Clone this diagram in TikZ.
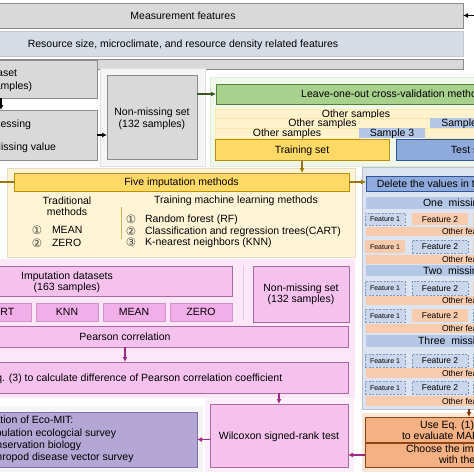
\documentclass[tikz,border=0pt]{standalone}
\usepackage{fontspec}
\setmainfont{Liberation Sans}
\newfontfamily\symf{DejaVu Sans}
\usetikzlibrary{arrows.meta}
\definecolor{gF}{HTML}{D9D9D9}\definecolor{gD}{HTML}{8C8C8C}
\definecolor{resF}{HTML}{D6DCE5}
\definecolor{grF}{HTML}{A9D18E}\definecolor{grD}{HTML}{548235}
\definecolor{lyel}{HTML}{FFF2CC}\definecolor{yelF}{HTML}{FFD966}\definecolor{yelD}{HTML}{BF9000}
\definecolor{blF}{HTML}{8FAADC}\definecolor{blD}{HTML}{2F5597}\definecolor{lbl}{HTML}{B4C7E7}
\definecolor{ftB}{HTML}{C9D6EC}\definecolor{ftBD}{HTML}{7E95BE}\definecolor{orF}{HTML}{F8CBAD}
\definecolor{pkP}{HTML}{FCE6F8}\definecolor{pkB}{HTML}{F5C2EE}\definecolor{pkD}{HTML}{A86AA0}\definecolor{pkM}{HTML}{F2AEE8}
\definecolor{puF}{HTML}{B4A7D6}\definecolor{puD}{HTML}{7F6FA8}
\definecolor{obF}{HTML}{F4B183}\definecolor{obD}{HTML}{8F4413}\definecolor{peach}{HTML}{FBE5D6}
\definecolor{bpan}{HTML}{DCE4F2}\definecolor{cream}{HTML}{FFF4D6}
\definecolor{aGreen}{HTML}{385723}\definecolor{aGold}{HTML}{9C7400}\definecolor{aMag}{HTML}{A3288A}\definecolor{aBrown}{HTML}{843C0C}
\newcommand{\fA}{\fontsize{10.5}{12}\selectfont}
\newcommand{\mkbox}[7]{\node[#2, minimum width={(#5)-(#3)}, minimum height={(#6)-(#4)}] (#1) at ({((#3)+(#5))/2},{((#4)+(#6))/2}) {#7};}
\newcommand{\frow}[6]{%
 \mkbox{#1a}{#4,ft7}{365}{#2}{405}{#3}{Feature 1}
 \mkbox{#1b}{#5,ft8}{412}{#2}{468}{#3}{Feature 2}
 \mkbox{#1c}{#6,ft8}{473}{#2}{530}{#3}{Feature 3}}
\newcommand{\orow}[3]{%
 \mkbox{#1}{obar}{366}{#2}{560}{#3}{}
 \node[ft8, anchor=west] (#1t) at (442,{((#2)+(#3))/2}) {Other features};}
\begin{document}
\begin{tikzpicture}[x=1pt,y=-1pt,
 every node/.style={inner sep=0pt, outer sep=0pt},
 t10/.style={font=\fA, text height=7.6pt, text depth=0pt},
 ft7/.style={font=\fontsize{7}{8}\selectfont, text height=5.1pt, text depth=0pt},
 ft8/.style={font=\fontsize{8.5}{10}\selectfont, text height=6.1pt, text depth=0pt},
 sym/.style={font=\symf\fontsize{11.5}{12}\selectfont, text=black!75},
 gbox/.style={fill=gF, draw=gD, line width=0.8pt},
 rbox/.style={fill=resF, draw=resF!90!black, line width=0.4pt},
 wpan/.style={fill=black!4, draw=black!12, line width=0.4pt},
 gpan/.style={fill=grF!18, draw=grF!40, line width=0.4pt},
 greenbox/.style={fill=grF, draw=grD, line width=0.8pt},
 ycell/.style={fill=lyel, draw=yelF!60, line width=0.4pt},
 bcell/.style={fill=lbl},
 ybox/.style={fill=yelF, draw=yelD, line width=0.8pt},
 bbox/.style={fill=blF, draw=blD, line width=0.8pt},
 cpan/.style={fill=cream, draw=cream!90!black, line width=0.3pt},
 ppan/.style={fill=pkP},
 pbox/.style={fill=pkB, draw=pkD, line width=0.8pt},
 mbox/.style={fill=pkM, draw=pkM!85!black, line width=0.4pt},
 purbox/.style={fill=puF, draw=puD, line width=0.8pt},
 lgpan/.style={fill=black!4},
 wpan2/.style={fill=pkP!60},
 bpanel/.style={fill=bpan, draw=bpan!85!black, line width=0.4pt},
 mbar/.style={fill=lbl},
 fb/.style={fill=ftB, draw=ftBD, dashed, dash pattern=on 2pt off 1.5pt, line width=0.5pt},
 fo/.style={fill=orF},
 obar/.style={fill=orF},
 opanel/.style={fill=peach},
 obox/.style={fill=obF, draw=obD, line width=0.8pt},
 arr/.style={-{Latex[length=5pt,width=5pt]}, line width=1.3pt},
]
\useasboundingbox (0,0) rectangle (474,474);
\fill[white] (0,0) rectangle (474,474);
\clip (0,0) rectangle (474,474);
% ---------- top ----------
\mkbox{meas}{gbox,t10}{-97}{3}{463}{28}{Measurement features}
\mkbox{res}{rbox,t10}{-97}{31}{463}{56}{Resource size, microclimate, and resource density related features}
\mkbox{strip}{gbox}{-97}{59}{463}{69}{}
\mkbox{dataset}{gbox}{-99}{60}{97}{98}{}
\node[t10] (dsA) at (-1,73) {Dataset};
\node[t10] (dsB) at (-1,86) {(163 samples)};
\mkbox{missing}{gbox}{-99}{110}{97}{160}{}
\node[t10, anchor=east] (msA) at (31,124) {Processing};
\node[t10, anchor=east] (msB) at (56,147) {Missing value};
\mkbox{wpanel}{wpan}{100}{68}{205}{166}{}
\mkbox{nonmiss}{gbox}{107}{75}{197}{159}{}
\node[t10] (nmA) at (152,112) {Non-missing set};
\node[t10] (nmB) at (152,124) {(132 samples)};
\mkbox{gpanel}{gpan}{210}{77}{480}{166}{}
\mkbox{loo}{greenbox,t10}{216}{84}{568}{104}{Leave-one-out cross-validation method}
\mkbox{r1a}{ycell,t10}{215}{109}{497}{118}{Other samples}
\mkbox{r1b}{bcell,t10}{497}{109}{563}{118}{Sample 1}
\mkbox{r2a}{ycell,t10}{215}{118}{430}{128}{Other samples}
\mkbox{r2b}{bcell,t10}{430}{118}{497}{128}{Sample 2}
\mkbox{r3a}{ycell,t10}{215}{128}{359}{138}{Other samples}
\mkbox{r3b}{bcell,t10}{359}{128}{425}{138}{Sample 3}
\mkbox{r3c}{ycell}{425}{128}{560}{138}{}
\mkbox{train}{ybox,t10}{215}{139}{389}{160}{Training set}
\mkbox{test}{bbox,t10}{396}{139}{542}{160}{Test set}
% ---------- five imputation ----------
\mkbox{fpanel}{cpan}{7}{168}{355}{257}{}
\mkbox{five}{ybox,t10}{14}{173}{349}{191}{Five imputation methods}
\node[t10] (trA) at (67,201) {Traditional};
\node[t10] (trB) at (67,212) {methods};
\node[sym] (c1) at (37,230) {①};
\node[t10, anchor=west] (mean) at (52,230) {MEAN};
\node[sym] (c2) at (37,243) {②};
\node[t10, anchor=west] (zero) at (52,243) {ZERO};
\draw[yelD!70, line width=0.8pt] (121,207) -- (121,239);
\node[t10] (tml) at (236,200) {Training machine learning methods};
\node[sym] (d1) at (131,219) {①};
\node[t10, anchor=west] (rf) at (145,219) {Random forest (RF)};
\node[sym] (d2) at (131,231) {②};
\node[t10, anchor=west] (cart) at (145,231) {Classification and regression trees(CART)};
\node[sym] (d3) at (131,242) {③};
\node[t10, anchor=west] (knnT) at (145,242) {K-nearest neighbors (KNN)};
% ---------- pink ----------
\mkbox{ppanel}{ppan}{-100}{259}{355}{398}{}
\mkbox{impd}{pbox}{-98}{266}{232}{296}{}
\node[t10] (impA) at (67,276) {Imputation datasets};
\node[t10] (impB) at (67,287) {(163 samples)};
\mkbox{mRF}{mbox,t10}{-98}{303}{-36}{321}{RF}
\mkbox{mCART}{mbox,t10}{-31}{303}{31}{321}{CART}
\mkbox{mKNN}{mbox,t10}{36}{303}{98}{321}{KNN}
\mkbox{mMEAN}{mbox,t10}{103}{303}{165}{321}{MEAN}
\mkbox{mZERO}{mbox,t10}{170}{303}{232}{321}{ZERO}
\draw[pkD!35, line width=0.8pt] (243,266) -- (243,320);
\mkbox{nm2}{pbox}{253}{266}{349}{322}{}
\node[t10] (nm2A) at (301,288) {Non-missing set};
\node[t10] (nm2B) at (301,299) {(132 samples)};
\mkbox{pear}{pbox,t10}{-98}{326}{348}{347}{Pearson correlation}
\mkbox{eq3}{pbox,t10}{-98}{362}{348}{393}{Use Eq. (3) to calculate difference of Pearson correlation coefficient}
% ---------- bottom left ----------
\mkbox{purpan}{lgpan}{-100}{406}{203}{472}{}
\mkbox{app}{purbox}{-98}{412}{197}{467}{}
\node[t10, anchor=west] (appA) at (-34,420) {Application of Eco-MIT:};
\node[t10, anchor=west] (appB) at (-17,433) {Population ecologcial survey};
\node[t10, anchor=west] (appC) at (-17,445) {Conservation biology};
\node[t10, anchor=west] (appD) at (-17,457) {Arthropod disease vector survey};
\mkbox{wilpan}{wpan2}{205}{399}{354}{472}{}
\mkbox{wil}{pbox,t10}{210}{404}{348}{467}{Wilcoxon signed-rank test}
% ---------- right column ----------
\mkbox{rpanel}{bpanel}{362}{167}{480}{409}{}
\mkbox{del}{bbox,t10}{366}{176}{534}{191}{Delete the values in the test set}
\mkbox{one}{mbar}{366}{197}{560}{209}{}
\node[t10, anchor=west] (oneT) at (423,203) {One\ \ missing feature};
\frow{ga}{213}{225}{fb}{fo}{fo}
\orow{gaO}{227}{236}
\frow{gb}{240}{253}{fo}{fb}{fo}
\orow{gbO}{255}{264}
\mkbox{two}{mbar}{366}{265}{560}{276}{}
\node[t10, anchor=west] (twoT) at (423,270.5) {Two\ \ missing features};
\frow{gc}{281}{295}{fb}{fb}{fo}
\orow{gcO}{296}{305}
\frow{gd}{309}{322}{fb}{fo}{fb}
\orow{gdO}{324}{333}
\mkbox{three}{mbar}{366}{335}{560}{347}{}
\node[t10, anchor=west] (threeT) at (418,341) {Three\ \ missing features};
\frow{ge}{354}{367}{fb}{fb}{fb}
\orow{geO}{368}{378}
\frow{gf}{381}{394}{fb}{fb}{fb}
\orow{gfO}{396}{406}
\mkbox{opan}{opanel}{362}{413}{480}{472}{}
\mkbox{useq}{obox}{365}{417}{560}{442}{}
\node[t10, anchor=west] (ueA) at (420,425) {Use Eq. (1) and (2)};
\node[t10, anchor=west] (ueB) at (402,436) {to evaluate MAE and RMSE};
\mkbox{choose}{obox}{365}{443}{560}{467}{}
\node[t10, anchor=west] (chA) at (406,449) {Choose the imputation method};
\node[t10, anchor=west] (chB) at (439,460) {with the lowest error};
% ---------- connectors ----------
\coordinate (tr) at (482,15.5);
\coordinate (dsx) at (1,0);
\coordinate (lin) at (-10,182);
\coordinate (ax) at (469,0);
\draw[arr, black] (tr) -- (meas.east);
\draw[arr, black] (dataset.south -| dsx) -- (missing.north -| dsx);
\draw[arr, black] (missing.east) -- (missing.east -| nonmiss.west);
\draw[arr, aGreen] (nonmiss.east |- loo.west) -- (loo.west);
\draw[arr, aGold] (train.south) -- (train.south |- five.north);
\draw[aGold, line width=1.3pt] (lin) -- (five.west);
\draw[arr, aGold] (five.east) -- (five.east -| del.west);
\draw[arr, aMag] (pear.south) -- (eq3.north);
\draw[arr, aMag] (wil.north |- eq3.south) -- (wil.north);
\draw[arr, aMag] (wil.west |- app.east) -- (app.east);
\draw[arr, aMag] (choose.west) -- (choose.west -| wil.east);
\draw[arr, aBrown] (rpanel.south -| ax) -- (useq.north -| ax);
\end{tikzpicture}
\end{document}
